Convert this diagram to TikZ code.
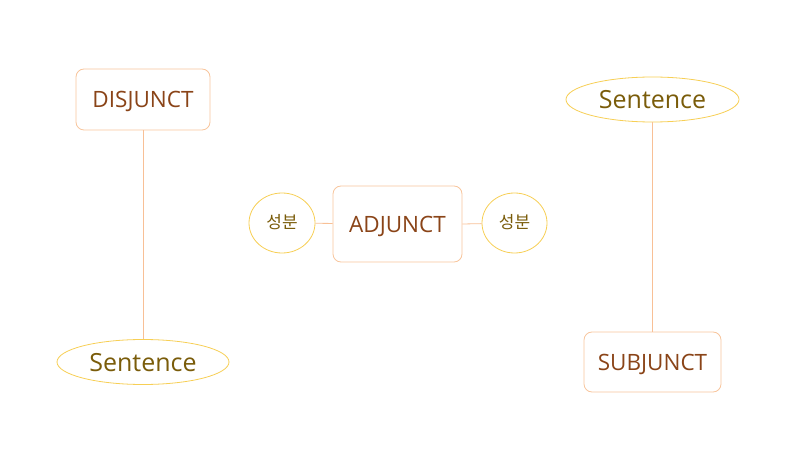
\documentclass[tikz,border=0pt]{standalone}
\usepackage{fontspec}
\setmainfont{Open Sans}
\newfontfamily\kofont{Noto Sans CJK KR}
\usetikzlibrary{shapes.geometric}
\definecolor{boxline}{HTML}{F8C59C}
\definecolor{boxtext}{HTML}{8A4418}
\definecolor{elline}{HTML}{F7CF55}
\definecolor{eltext}{HTML}{7A5C0A}
\definecolor{linkc}{HTML}{F8C096}
\tikzset{
  termbox/.style={draw=boxline, line width=0.8pt, rounded corners=8pt, fill=white, text=boxtext, font=\fontsize{22.5}{26}\selectfont, inner sep=0pt, text height=16.1pt, text depth=0pt},
  sentel/.style={draw=elline, line width=0.8pt, ellipse, fill=white, text=eltext, font=\fontsize{25}{30}\selectfont, inner sep=0pt, text height=18.5pt, text depth=0pt},
  partel/.style={draw=elline, line width=0.8pt, ellipse, fill=white, text=eltext, font=\kofont\fontsize{17}{20}\selectfont, inner sep=0pt, text height=10.3pt, text depth=0pt},
  link/.style={draw=linkc, line width=0.8pt}
}
\begin{document}
\begin{tikzpicture}[x=1pt,y=1pt]
\useasboundingbox (0,0) rectangle (800,450);
\node[termbox, minimum width=134pt, minimum height=61pt] (dis) at (143,350.5) {DISJUNCT};
\node[sentel, minimum width=172pt, minimum height=45pt] (s1) at (143,88) {Sentence};
\node[termbox, minimum width=129pt, minimum height=76pt] (adj) at (397.5,226) {ADJUNCT};
\node[partel, minimum width=66pt, minimum height=60pt] (p1) at (282,227) {성분};
\node[partel, minimum width=65pt, minimum height=60pt] (p2) at (514.5,227) {성분};
\node[sentel, minimum width=173pt, minimum height=45pt] (s2) at (652.5,350.5) {Sentence};
\node[termbox, minimum width=137pt, minimum height=60pt] (sub) at (652.5,88) {SUBJUNCT};
\draw[link] (dis) -- (s1);
\draw[link] (s2) -- (sub);
\draw[link] (p1) -- (adj);
\draw[link] (adj.east) -- (p2);
\end{tikzpicture}
\end{document}
